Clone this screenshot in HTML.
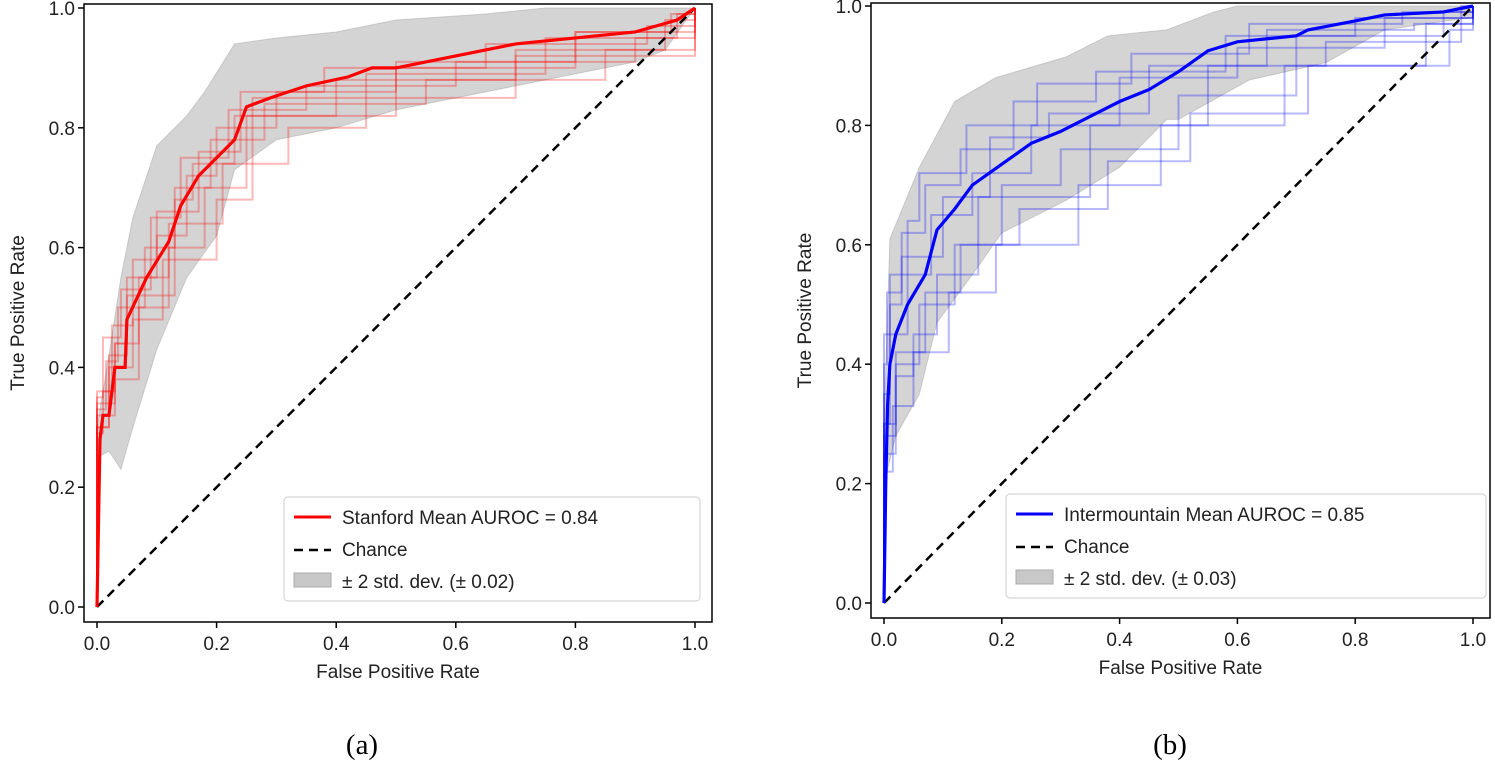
<!DOCTYPE html>
<html><head><meta charset="utf-8"><style>
html,body{margin:0;padding:0;background:#fff;}
svg{display:block;font-family:"Liberation Sans","DejaVu Sans",sans-serif;}
</style></head><body>
<svg id="s" width="1495" height="762" viewBox="0 0 1495 762"></svg>
<script>
// ---- Panel (a) Stanford data ----
const aMeanX=[0,0.005,0.01,0.02,0.03,0.047,0.05,0.083,0.12,0.14,0.17,0.2,0.23,0.25,0.29,0.35,0.42,0.46,0.5,0.6,0.7,0.8,0.9,0.97,1];
const aMeanY=[0,0.28,0.32,0.32,0.40,0.40,0.48,0.55,0.61,0.67,0.72,0.75,0.78,0.835,0.85,0.87,0.885,0.90,0.90,0.92,0.94,0.95,0.96,0.98,1];
const aUpX=[0,0.02,0.04,0.06,0.1,0.15,0.18,0.23,0.3,0.4,0.5,0.65,0.75,1];
const aUpY=[0.3,0.42,0.55,0.65,0.77,0.82,0.86,0.94,0.95,0.96,0.98,0.99,1,1];
const aLoX=[0,0.02,0.04,0.06,0.1,0.15,0.2,0.23,0.3,0.4,0.5,0.6,0.7,0.8,0.9,0.95,1];
const aLoY=[0.25,0.26,0.23,0.3,0.43,0.55,0.62,0.73,0.78,0.80,0.83,0.85,0.87,0.89,0.91,0.93,1];
const aFoldX=[
 [0,0.02,0.05,0.1,0.15,0.2,0.3,0.5,0.8,1],
 [0,0.03,0.07,0.12,0.18,0.25,0.4,0.7,0.95,1],
 [0,0.01,0.04,0.09,0.14,0.22,0.35,0.6,0.9,1],
 [0,0.02,0.06,0.11,0.2,0.26,0.45,0.75,0.97,1],
 [0,0.015,0.035,0.08,0.13,0.19,0.28,0.55,0.85,1],
 [0,0.025,0.06,0.1,0.17,0.24,0.38,0.65,0.92,1],
 [0,0.01,0.03,0.07,0.12,0.21,0.32,0.45,0.7,1],
 [0,0.03,0.05,0.13,0.16,0.23,0.5,0.8,0.96,1]];
const aFoldY=[
 [0.3,0.42,0.55,0.62,0.72,0.8,0.86,0.9,0.96,1],
 [0.32,0.38,0.5,0.6,0.7,0.82,0.88,0.93,0.98,1],
 [0.35,0.45,0.53,0.65,0.75,0.83,0.87,0.91,0.95,1],
 [0.3,0.4,0.48,0.58,0.68,0.85,0.89,0.95,0.99,1],
 [0.33,0.41,0.5,0.6,0.7,0.78,0.84,0.88,0.93,1],
 [0.36,0.47,0.58,0.66,0.76,0.86,0.9,0.94,0.97,1],
 [0.29,0.36,0.44,0.55,0.64,0.74,0.8,0.85,0.92,1],
 [0.34,0.44,0.52,0.68,0.74,0.82,0.91,0.96,0.99,1]];
// ---- Panel (b) Intermountain data ----
const bMeanX=[0,0.003,0.006,0.01,0.02,0.04,0.07,0.09,0.12,0.15,0.2,0.25,0.3,0.35,0.4,0.45,0.5,0.55,0.6,0.7,0.72,0.8,0.85,0.95,1];
const bMeanY=[0,0.2,0.33,0.4,0.45,0.50,0.55,0.625,0.66,0.70,0.735,0.77,0.79,0.815,0.84,0.86,0.89,0.925,0.94,0.95,0.96,0.975,0.985,0.99,1];
const bUpX=[0,0.01,0.06,0.12,0.19,0.31,0.38,0.48,0.56,0.6,1];
const bUpY=[0.3,0.61,0.73,0.84,0.88,0.915,0.95,0.96,0.99,1,1];
const bLoX=[0,0.02,0.06,0.09,0.15,0.2,0.31,0.4,0.48,0.5,0.62,0.75,0.85,0.97,1];
const bLoY=[0.2,0.28,0.35,0.47,0.55,0.62,0.675,0.73,0.81,0.81,0.876,0.905,0.96,0.977,0.98];
const bFoldX=[
 [0,0.01,0.04,0.08,0.15,0.25,0.4,0.6,0.85,1],
 [0,0.02,0.06,0.12,0.2,0.3,0.5,0.7,0.95,1],
 [0,0.01,0.03,0.1,0.18,0.28,0.45,0.65,0.9,1],
 [0,0.02,0.05,0.09,0.16,0.35,0.55,0.75,0.98,1],
 [0,0.005,0.03,0.07,0.13,0.22,0.36,0.58,0.8,1],
 [0,0.015,0.05,0.11,0.19,0.33,0.47,0.68,0.92,1],
 [0,0.01,0.04,0.06,0.14,0.26,0.42,0.62,0.88,1],
 [0,0.02,0.07,0.13,0.23,0.38,0.52,0.72,0.96,1]];
const bFoldY=[
 [0.3,0.45,0.55,0.65,0.72,0.8,0.88,0.93,0.98,1],
 [0.25,0.4,0.5,0.6,0.7,0.76,0.85,0.95,0.99,1],
 [0.35,0.5,0.58,0.68,0.78,0.82,0.9,0.96,0.97,1],
 [0.28,0.38,0.45,0.55,0.68,0.8,0.9,0.94,1,1],
 [0.4,0.52,0.62,0.7,0.76,0.84,0.89,0.95,0.98,1],
 [0.22,0.33,0.42,0.52,0.6,0.7,0.8,0.9,0.97,1],
 [0.45,0.55,0.64,0.72,0.8,0.87,0.92,0.97,0.99,1],
 [0.3,0.42,0.52,0.6,0.66,0.74,0.82,0.9,0.96,1]];
const ticks=[0,0.2,0.4,0.6,0.8,1.0];
const tickLabels=["0.0","0.2","0.4","0.6","0.8","1.0"];

const NS="http://www.w3.org/2000/svg";
const svg=document.getElementById('s');
function mk(tag,attrs,parent){const e=document.createElementNS(NS,tag);for(const k in attrs)e.setAttribute(k,attrs[k]);(parent||svg).appendChild(e);return e;}

function panel(cfg){
  const g=mk('g',{});
  
  
  const sx=v=>cfg.x0+(cfg.x1-cfg.x0)*v, sy=v=>cfg.y0-(cfg.y0-cfg.y1)*v;
  const cp='clip-'+cfg.name;
  const cl=mk('clipPath',{id:cp},g);mk('rect',{x:cfg.fl,y:cfg.ft,width:cfg.fr-cfg.fl,height:cfg.fb-cfg.ft},cl);
  const pg=mk('g',{'clip-path':'url(#'+cp+')'},g);
  let d='';cfg.upX.forEach((x,i)=>d+=(i?'L':'M')+sx(x)+','+sy(cfg.upY[i]));
  for(let i=cfg.loX.length-1;i>=0;i--)d+='L'+sx(cfg.loX[i])+','+sy(cfg.loY[i]);
  const band=mk('path',{d:d+'Z',fill:'#b0b0b0','fill-opacity':0.55,stroke:'#999','stroke-opacity':0.4},pg);
  
  
  cfg.foldX.forEach((xs,k)=>{
    let p='M'+sx(0)+','+sy(0);
    xs.forEach((x,i)=>{p+='L'+sx(x)+','+sy(i?cfg.foldY[k][i-1]:0)+'L'+sx(x)+','+sy(cfg.foldY[k][i]);});
    const f=mk('path',{d:p,fill:'none',stroke:cfg.color,'stroke-opacity':0.28,'stroke-width':2},pg);
    
    
  });
  const ch=mk('line',{x1:sx(0),y1:sy(0),x2:sx(1),y2:sy(1),stroke:'#000','stroke-width':2.5,'stroke-dasharray':'9,6'},pg);
  
  
  let m='';cfg.mx.forEach((x,i)=>m+=(i?'L':'M')+sx(x)+','+sy(cfg.my[i]));
  const ml=mk('path',{d:m,fill:'none',stroke:cfg.color,'stroke-width':3.2},pg);
  
  
  const fr=mk('rect',{x:cfg.fl,y:cfg.ft,width:cfg.fr-cfg.fl,height:cfg.fb-cfg.ft,fill:'none',stroke:'#000','stroke-width':1.5},g);
  
  
  ticks.forEach((t,i)=>{
    mk('line',{x1:sx(t),y1:cfg.fb,x2:sx(t),y2:cfg.fb+6,stroke:'#000','stroke-width':1.5},g);
    const tx=mk('text',{x:sx(t),y:cfg.fb+28,'text-anchor':'middle','font-size':19,fill:'#222'},g);tx.textContent=tickLabels[i];
    
    
    mk('line',{x1:cfg.fl,y1:sy(t),x2:cfg.fl-6,y2:sy(t),stroke:'#000','stroke-width':1.5},g);
    const ty=mk('text',{x:cfg.fl-9,y:sy(t)+7,'text-anchor':'end','font-size':19,fill:'#222'},g);ty.textContent=tickLabels[i];
    
    
  });
  const xl=mk('text',{x:(cfg.fl+cfg.fr)/2,y:cfg.fb+56,'text-anchor':'middle','font-size':19,fill:'#222'},g);xl.textContent='False Positive Rate';
  
  
  const yc=(cfg.ft+cfg.fb)/2, yx=cfg.fl-60;
  const yl=mk('text',{x:yx,y:yc,'text-anchor':'middle','font-size':19,fill:'#222',transform:'rotate(-90 '+yx+' '+yc+')'},g);yl.textContent='True Positive Rate';
  
  
  const L=cfg.leg;
  const lg=mk('g',{},g);
  
  
  mk('rect',{x:L.x,y:L.y,width:L.w,height:104,rx:4,fill:'#fff','fill-opacity':0.85,stroke:'#ccc','stroke-width':1},lg);
  mk('line',{x1:L.x+10,y1:L.y+20,x2:L.x+47,y2:L.y+20,stroke:cfg.color,'stroke-width':3},lg);
  mk('line',{x1:L.x+10,y1:L.y+53,x2:L.x+47,y2:L.y+53,stroke:'#000','stroke-width':2.5,'stroke-dasharray':'9,6'},lg);
  mk('rect',{x:L.x+10,y:L.y+76,width:37,height:14,fill:'#c8c8c8',stroke:'#aaa'},lg);
  [cfg.label,'Chance',cfg.sd].forEach((s,i)=>{const t=mk('text',{x:L.x+58,y:L.y+27+i*32,'font-size':19,fill:'#222'},lg);t.textContent=s;
    
    });
  const cap=mk('text',{x:cfg.capX,y:754,'text-anchor':'middle','font-size':29,fill:'#000','font-family':'"Liberation Serif",serif'},g);cap.textContent=cfg.cap;
  
  
}
panel({name:'panel-a-stanford',x0:97,x1:695,y0:607,y1:8,fl:84,fr:712,ft:4,fb:622,color:'#ff0000',
  mx:aMeanX,my:aMeanY,upX:aUpX,upY:aUpY,loX:aLoX,loY:aLoY,foldX:aFoldX,foldY:aFoldY,
  leg:{x:284,y:497,w:416},label:'Stanford Mean AUROC = 0.84',sd:'± 2 std. dev. (± 0.02)',cap:'(a)',capX:362});
panel({name:'panel-b-intermountain',x0:884,x1:1473,y0:603,y1:6,fl:871,fr:1490,ft:3,fb:618,color:'#0000ff',
  mx:bMeanX,my:bMeanY,upX:bUpX,upY:bUpY,loX:bLoX,loY:bLoY,foldX:bFoldX,foldY:bFoldY,
  leg:{x:1006,y:494,w:480},label:'Intermountain Mean AUROC = 0.85',sd:'± 2 std. dev. (± 0.03)',cap:'(b)',capX:1170});
</script>
</body></html>
